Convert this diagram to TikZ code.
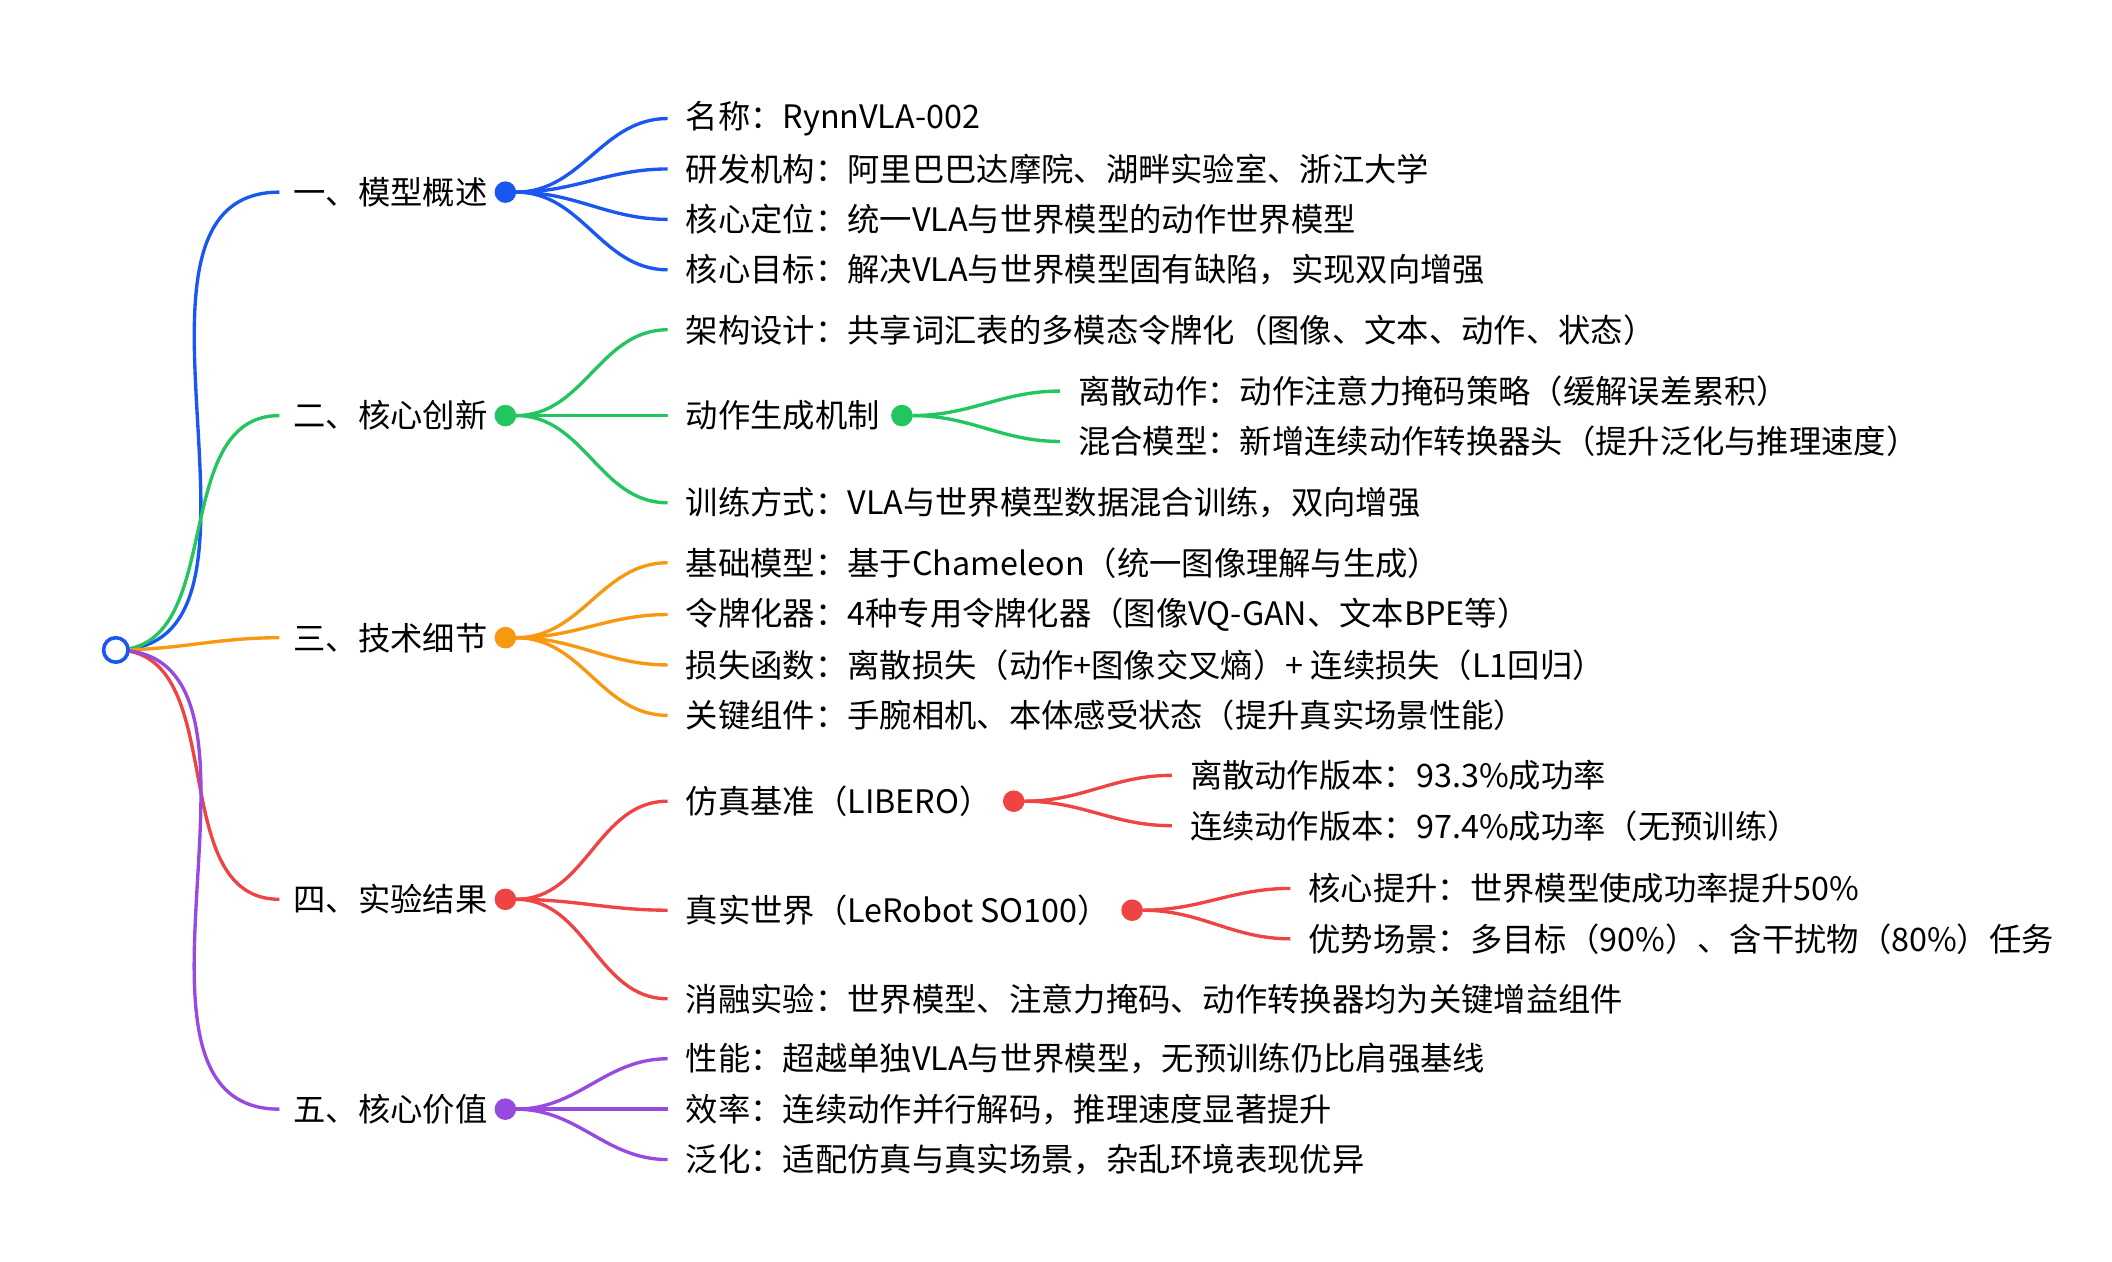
\documentclass[tikz,border=0pt]{standalone}
\usepackage{fontspec}
\setmainfont{Noto Sans CJK SC}
\begin{document}
\begin{tikzpicture}[x=0.02cm,y=-0.02cm,
  txt/.style={anchor=west,inner xsep=0.26cm,inner ysep=2pt,font=\fontsize{13.5}{16}\selectfont},
  lone/.style={anchor=west,inner xsep=0.2cm,inner ysep=2pt,font=\fontsize{13.5}{16}\selectfont},
  circ/.style={circle,draw,line width=1.3pt,fill=white,minimum size=0.27cm,inner sep=0pt,anchor=west},
  cv/.style={line width=1.4pt,out=0,in=180},
  cA/.style={color={rgb,255:red,26;green,86;blue,240}},
  cB/.style={color={rgb,255:red,34;green,197;blue,94}},
  cC/.style={color={rgb,255:red,247;green,152;blue,16}},
  cD/.style={color={rgb,255:red,239;green,68;blue,68}},
  cE/.style={color={rgb,255:red,150;green,74;blue,224}}]
\useasboundingbox (0,0) rectangle (1550,926);
% level 1
\node[lone] (A) at (205,141) {一、模型概述};
\node[lone] (B) at (205,305) {二、核心创新};
\node[lone] (C) at (205,468) {三、技术细节};
\node[lone] (D) at (205,660) {四、实验结果};
\node[lone] (E) at (205,814) {五、核心价值};
\foreach \n/\s in {A/cA,B/cB,C/cC,D/cD,E/cE}{
  \draw[cv,\s] (85,477) to (\n.west);
}
\node[circle,draw,cA,line width=1.5pt,fill=white,minimum size=0.36cm,inner sep=0pt] (root) at (85,477) {};
\node[circ,cA] (Ac) at ([xshift=-0.1cm]A.east) {};
\node[circ,cB] (Bc) at ([xshift=-0.1cm]B.east) {};
\node[circ,cC] (Cc) at ([xshift=-0.1cm]C.east) {};
\node[circ,cD] (Dc) at ([xshift=-0.1cm]D.east) {};
\node[circ,cE] (Ec) at ([xshift=-0.1cm]E.east) {};
% branch A
\node[txt] (A1) at (490,87) {名称：RynnVLA-002};
\node[txt] (A2) at (490,124) {研发机构：阿里巴巴达摩院、湖畔实验室、浙江大学};
\node[txt] (A3) at (490,161) {核心定位：统一VLA与世界模型的动作世界模型};
\node[txt] (A4) at (490,198) {核心目标：解决VLA与世界模型固有缺陷，实现双向增强};
\foreach \m in {A1,A2,A3,A4}{\draw[cv,cA] (Ac.east) to (\m.west);}
% branch B
\node[txt] (B1) at (490,242) {架构设计：共享词汇表的多模态令牌化（图像、文本、动作、状态）};
\node[txt] (B2) at (490,305) {动作生成机制};
\node[txt] (B3) at (490,369) {训练方式：VLA与世界模型数据混合训练，双向增强};
\foreach \m in {B1,B2,B3}{\draw[cv,cB] (Bc.east) to (\m.west);}
\node[circ,cB] (B2c) at ([xshift=-0.1cm]B2.east) {};
\node[txt] (B21) at (778,287) {离散动作：动作注意力掩码策略（缓解误差累积）};
\node[txt] (B22) at (778,324) {混合模型：新增连续动作转换器头（提升泛化与推理速度）};
\foreach \m in {B21,B22}{\draw[cv,cB] (B2c.east) to (\m.west);}
% branch C
\node[txt] (C1) at (490,413) {基础模型：基于Chameleon（统一图像理解与生成）};
\node[txt] (C2) at (490,451) {令牌化器：4种专用令牌化器（图像VQ-GAN、文本BPE等）};
\node[txt] (C3) at (490,488) {损失函数：离散损失（动作+图像交叉熵）+ 连续损失（L1回归）};
\node[txt] (C4) at (490,525) {关键组件：手腕相机、本体感受状态（提升真实场景性能）};
\foreach \m in {C1,C2,C3,C4}{\draw[cv,cC] (Cc.east) to (\m.west);}
% branch D
\node[txt] (D1) at (490,588) {仿真基准（LIBERO）};
\node[txt] (D2) at (490,668) {真实世界（LeRobot SO100）};
\node[txt] (D3) at (490,733) {消融实验：世界模型、注意力掩码、动作转换器均为关键增益组件};
\foreach \m in {D1,D2,D3}{\draw[cv,cD] (Dc.east) to (\m.west);}
\node[circ,cD] (D1c) at ([xshift=-0.1cm]D1.east) {};
\node[circ,cD] (D2c) at ([xshift=-0.1cm]D2.east) {};
\node[txt] (D11) at (860,569) {离散动作版本：93.3\%成功率};
\node[txt] (D12) at (860,606) {连续动作版本：97.4\%成功率（无预训练）};
\foreach \m in {D11,D12}{\draw[cv,cD] (D1c.east) to (\m.west);}
\node[txt] (D21) at (947,652) {核心提升：世界模型使成功率提升50\%};
\node[txt] (D22) at (947,689) {优势场景：多目标（90\%）、含干扰物（80\%）任务};
\foreach \m in {D21,D22}{\draw[cv,cD] (D2c.east) to (\m.west);}
% branch E
\node[txt] (E1) at (490,777) {性能：超越单独VLA与世界模型，无预训练仍比肩强基线};
\node[txt] (E2) at (490,814) {效率：连续动作并行解码，推理速度显著提升};
\node[txt] (E3) at (490,851) {泛化：适配仿真与真实场景，杂乱环境表现优异};
\foreach \m in {E1,E2,E3}{\draw[cv,cE] (Ec.east) to (\m.west);}
\end{tikzpicture}
\end{document}
